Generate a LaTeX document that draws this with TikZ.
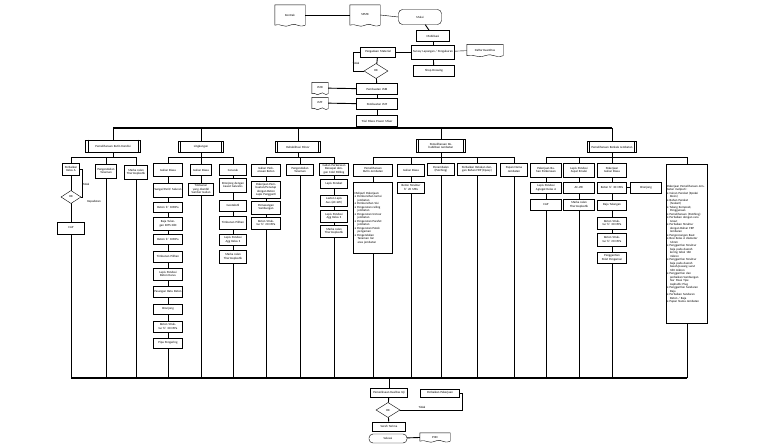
\documentclass[tikz,border=0pt]{standalone}
\usepackage{fontspec}
\setmainfont{Carlito}
\usetikzlibrary{shapes.geometric,calc}
\newcommand\fs{\fontsize{3.1}{3.5}\selectfont}
\tikzset{
 b/.style={draw,line width=0.9pt,fill=white,align=center,inner sep=0.6pt,font=\fs},
 dec/.style={draw,diamond,aspect=1.6,inner sep=0.5pt,fill=white,font=\fs,line width=0.4pt,minimum width=24pt,minimum height=15pt},
 ln/.style={line width=0.9pt},
 tn/.style={line width=0.4pt},
 lbl/.style={font=\fs,inner sep=0.5pt}
}
\newcommand\nb[5]{\node[b,text width=\dimexpr#3pt-2pt\relax,minimum height=#4pt] (#1) at (#2) {#5};}
\newcommand\nbl[5]{\node[b,align=left,anchor=north,text width=\dimexpr#3pt-2pt\relax,minimum height=#4pt] (#1) at (#2) {#5};}
\newcommand\nh[5]{\node[b,text width=\dimexpr#3pt-8pt\relax,minimum height=#4pt,inner xsep=3.6pt] (#1) at (#2) {#5};
 \draw[line width=0.7pt] ([xshift=2.5pt]#1.north west)--([xshift=2.5pt]#1.south west) ([xshift=-2.5pt]#1.north east)--([xshift=-2.5pt]#1.south east);}
\newcommand\nd[5]{\node[font=\fs,align=center,minimum width=#3pt,minimum height=#4pt,inner sep=0.5pt] (#1) at (#2) {#5};
 \draw[tn,fill=white] (#1.north west)--(#1.north east)--(#1.south east) .. controls +(-0.25*#3pt,-3pt) and +(0.25*#3pt,3pt) .. (#1.south) .. controls +(-0.25*#3pt,-3pt) and +(0.25*#3pt,2pt) .. (#1.south west)--cycle;
 \node[font=\fs,align=center] at (#1) {#5};}
\newcommand\nt[5]{\node[draw,tn,rounded corners=4pt,font=\fs,minimum width=#3pt,minimum height=#4pt,inner sep=0.5pt,fill=white] (#1) at (#2) {#5};}
\begin{document}
\begin{tikzpicture}[x=1pt,y=-1pt]
\useasboundingbox (0,0) rectangle (768,447);
% ---------- top
\nd{kon}{290,15}{30}{20}{Kontrak}
\nd{spmk}{365,15}{30}{20}{SPMK}
\nt{mulai}{420,17}{43}{15}{Mulai}
\draw[tn] (kon.east)--(spmk.west);
\draw[tn] (spmk.east)--(mulai.west);
\nb{mob}{433,36}{33}{11}{Mobilisasi}
\nb{sur}{433,52}{43}{14}{Survey Lapangan / Pengukuran}
\nb{shop}{434,71}{42}{11}{Shop Drawing}
\nd{daf}{485,50}{36}{11}{Daftar Kuantitas}
\nb{pen}{378,52}{36}{10}{Pengadaan Material}
\node[dec] (ok1) at (376,71) {OK};
\nb{jmb}{377,89}{42}{11}{Pembuatan JMB}
\nd{jmd}{320,88}{16}{11}{JMD}
\nb{jmf}{377,104}{42}{11}{Pembuatan JMF}
\nd{jmfd}{320,103}{16}{11}{JMF}
\nb{tri}{377,121}{42}{11}{Trial Mixes Power Mixer}
\draw[ln] (mulai)--(mob); \draw[ln](mob)--(sur); \draw[ln](sur)--(shop);
\draw[ln] (sur)--(pen); \draw[tn](sur)--(daf);
\draw[ln] (pen)--(ok1); \draw[ln](ok1)--(jmb); \draw[ln](jmb)--(jmf); \draw[ln](jmf)--(tri);
\draw[ln] (ok1.west)--(353,71)|-(pen.west); \node[lbl] at (356,63) {Tidak};
\draw[ln] (jmd)--(jmb); \draw[ln](jmfd)--(jmf);
% ---------- buses
\coordinate (tb) at (377,128);
\draw[ln] (tri)--(tb); \draw[line width=1.2pt] (113,128)--(612,128);
\nh{h1}{113,146}{55}{12}{Pemeliharaan Rutin Kondisi}
\nh{h2}{201,147}{46}{11}{Lingkungan}
\nh{h3}{298,147}{46}{11}{Rehabilitasi Minor}
\nh{h4}{441,146}{50}{13}{Pemeliharaan Rehabilitasi Jembatan}
\nh{h5}{612,147}{50}{11}{Pemeliharaan Berkala Jembatan}
\foreach \n/\x in {h1/113,h2/201,h3/298,h4/441,h5/612} \draw[ln] (\x,128)--(\n.north);
\foreach \n/\x/\a/\c in {h1/113/71/136,h2/201/168/233,h3/298/266/334,h4/441/373/514,h5/612/546/687}{
 \draw[ln] (\n.south)--(\x,157); \draw[ln] (\a,157)--(\c,157);}
\draw[line width=1.2pt] (71,378)--(687,378);
\foreach \x in {71,106,136,168,201,233,266,300,334,373,411,441,477,514,546,579,612,687}
 \draw[ln] (\x,157)--(\x,378);
% ---------- group 1
\nb{pk}{71,169}{18}{12}{Perbaikan Kelas A}
\node[dec,minimum width=20pt,minimum height=13pt] (ok2) at (71,197) {OK};
\nb{cap1}{71,228}{28}{12}{CAP}
\draw[ln] (ok2.east)--(82,197)|-(pk.east);
\node[lbl] at (86,184) {Tidak}; \node[lbl] at (94,202) {Kepadatan};
\nb{pt1}{106,171}{22}{14}{Pengendalian Tanaman}
\nb{mj1}{136,172}{24}{14}{Marka Jalan Thermoplastik}
% ---------- Lingkungan
\nb{g1}{168,170}{30}{13}{Galian Biasa}
\nb{a1}{168,190}{30}{14}{Sungai/Parit/ Saluran}
\nb{a2}{168,207}{30}{10}{Beton fc' 10MPa}
\nb{a3}{168,223.5}{30}{13}{Baja Tulangan BJTS 280}
\nb{a4}{168,239}{30}{10}{Beton fc' 10MPa}
\nb{a5}{168,256.5}{30}{11}{Timbunan Pilihan}
\nb{a6}{168,274}{30}{12}{Lapis Pondasi Beton Kurus}
\nb{a7}{168,291.5}{30}{11}{Pasangan Batu Beton}
\nb{a8}{168,309}{30}{10}{Bronjong}
\nb{a9}{168,326.5}{30}{11}{Beton Struktur fc' 30 MPa}
\nb{a10}{168,343}{30}{10}{Pipa Pengering}
\nb{g2}{201,170}{22}{11}{Galian Biasa}
\nb{tm}{201,189}{26}{12}{Timbunan yang diambil Sumber Galian}
\nb{c1}{233,170}{28}{11}{Cerucuk}
\nb{c2}{233,185}{28}{14}{Bronjong dengan kawat Galvanis}
\nb{c3}{233,205.5}{28}{11}{Geotekstil}
\nb{c4}{233,222.5}{28}{13}{Timbunan Pilihan}
\nb{c5}{233,239.5}{28}{11}{Lapis Pondasi Agg Kelas S}
\nb{c6}{233,256.5}{28}{13}{Marka Jalan Thermoplastik}
% ---------- Rehab minor
\nb{r1}{266,170}{30}{12}{Galian Perkerasan Beton}
\nb{r2}{266,189.5}{30}{17}{Pekerjaan Pembuatan/Penutup dengan Beton Lapis Pengganti}
\nb{r3}{266,207.5}{30}{13}{Pemasangan Sambungan}
\nb{r4}{266,223}{30}{12}{Beton Struktur fc' 20 MPa}
\nb{pt2}{300,170}{28}{11}{Pengendalian Tanaman}
\nb{s1}{334,169}{30}{12}{Galian Perkerasan Beraspal dengan Cold Milling}
\nb{s2}{334,183.5}{28}{9}{Lapis Perekat}
\nb{s3}{334,200.5}{28}{11}{Laston Lapis Aus (AC-WC)}
\nb{s4}{334,216}{28}{12}{Lapis Pondasi Agg Kelas S}
\nb{s5}{334,231}{28}{12}{Marka Jalan Thermoplastik}
% ---------- Rehab jembatan
\nb{j1}{373,170}{39}{12}{Pemeliharaan Rutin Jembatan}
\nbl{j2}{373,182}{39}{71}{Meliputi Pekerjaan:\\[-0.3pt]
\textbullet\ Pembersihan lantai\\\quad jembatan\\
\textbullet\ Pembersihan Sisi\\
\textbullet\ Pengecatan railing\\\quad jembatan\\
\textbullet\ Pengecatan trotoar\\\quad jembatan\\
\textbullet\ Pengecatan Parafet\\\quad jembatan\\
\textbullet\ Pengecatan Patok\\\quad pengaman\\
\textbullet\ Pengendalian\\\quad Tanaman liar\\\quad area jembatan}
\nb{j3}{411,170}{27}{12}{Galian Biasa}
\nb{j4}{411,187.5}{27}{11}{Beton Struktur fc' 20 MPa}
\nb{j5}{441,169}{27}{12}{Penambalan (Patching)}
\nb{j6}{477,169}{40}{12}{Perbaikan Retakan dengan Bahan FRP (Epoxy)}
\nb{j7}{514,169.5}{28}{13}{Papan Nama Jembatan}
% ---------- Berkala
\nb{k1}{546,170}{31}{14}{Pekerjaan Bahan Perkerasan}
\nb{k2}{546,187.5}{31}{11}{Lapis Pondasi Agregat Kelas A}
\nb{k3}{546,204.5}{31}{11}{CAP}
\nb{l1}{579,170}{31}{14}{Lapis Pondasi Aspal Emulsi}
\nb{l2}{579,187.5}{31}{11}{AC-WC}
\nb{l3}{579,204.5}{31}{11}{Marka Jalan Thermoplastik}
\nb{m1}{612,170}{30}{14}{Pekerjaan Galian Biasa}
\nb{m2}{612,187.5}{30}{11}{Beton fc' 30 MPa}
\nb{m3}{646,187.5}{31}{11}{Bronjong}
\draw[ln] (m2)--(m3);
\nb{m4}{612,205}{30}{10}{Baja Tulangan}
\nb{m5}{612,223}{30}{12}{Beton Struktur fc' 30 MPa}
\nb{m6}{612,239.5}{30}{13}{Beton Struktur fc' 20 MPa}
\nb{m7}{612,257.5}{30}{11}{Penggantian Pelat Pengaman}
\nbl{bl}{687,164}{42}{159}{Pekerjaan Pemeliharaan Jembatan meliputi :\\
\textbullet\ Cairan Perekat (Epoksi\\\quad Resin)\\
\textbullet\ Bahan Perekat\\\quad (Sealant)\\
\textbullet\ Tulang Komposit,\\\quad Penggunaan\\
\textbullet\ Pemeliharaan (Patching)\\
\textbullet\ Perbaikan dengan cara\\\quad Grout\\
\textbullet\ Perbaikan Struktur\\\quad dengan Bahan FRP\\\quad lembaran\\
\textbullet\ Pengencangan Baut\\
\textbullet\ Besi Kelas A diameter\\\quad 16mm\\
\textbullet\ Penggantian Struktur\\\quad baja pada daerah\\\quad kering tebal 160\\\quad mikron\\
\textbullet\ Penggantian Struktur\\\quad baja pada daerah\\\quad basah/pasang surut\\\quad 180 mikron\\
\textbullet\ Penggantian dan\\\quad perbaikan Sambungan\\\quad Siar Muai Tipe\\\quad Asphaltic Plug\\
\textbullet\ Penggantian Sandaran\\\quad Baja\\
\textbullet\ Perbaikan Sandaran\\\quad Beton / Baja\\
\textbullet\ Papan Nama Jembatan}
% ---------- bottom
\nb{pem}{389,392.5}{38}{9}{Pemeriksaan Kualitas Uji}
\draw[ln] (389,378)--(pem.north);
\node[dec] (ok3) at (388,410) {OK};
\nb{perb}{440,393}{39}{8}{Perbaikan Pekerjaan}
\draw[ln] (pem)--(ok3);
\draw[ln] (ok3.east)--(462,410)|-(perb.east); \node[lbl] at (422,407) {Tidak};
\nb{ser}{389,426.5}{34}{9}{Serah Terima}
\draw[ln] (ok3)--(ser);
\nt{sel}{388,438.5}{38}{9}{Selesai}
\nd{pho}{435,437}{30}{8}{PHO}
\draw[ln] (sel)--(pho);
\end{tikzpicture}
\end{document}
